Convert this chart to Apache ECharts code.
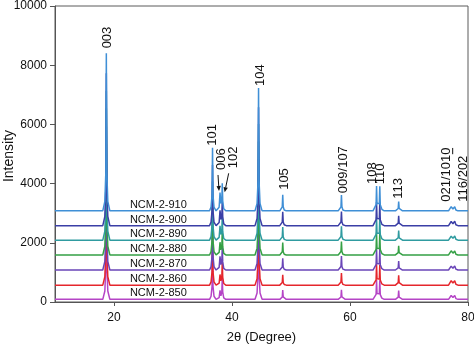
<!DOCTYPE html>
<html>
<head>
<meta charset="utf-8">
<script src="https://cdn.jsdelivr.net/npm/echarts@6/dist/echarts.min.js"></script>
<style>
html, body { margin: 0; padding: 0; background: #fff; }
#chart { width: 474px; height: 345px; }
</style>
</head>
<body>
<div id="chart"></div>
<script>
// 2-theta positions (degrees) at which each diffraction trace is sampled
const angles = [
  10.0,
  18.1, 18.45, 18.62, 18.7, 18.78, 18.95, 19.3,
  36.2, 36.45, 36.62, 36.7, 36.78, 36.95, 37.3,
  37.6, 37.82, 37.97, 38.12, 38.27, 38.35, 38.43, 38.6, 38.95,
  43.9, 44.25, 44.42, 44.5, 44.58, 44.75, 45.1,
  48.1, 48.35, 48.52, 48.6, 48.68, 48.85, 49.2,
  58.0, 58.3, 58.47, 58.55, 58.63, 58.8, 59.2,
  63.9, 64.2, 64.42, 64.5, 64.58, 64.78, 64.97, 65.05, 65.13, 65.4, 65.8,
  67.7, 68.0, 68.17, 68.25, 68.33, 68.5, 68.9,
  76.7, 76.95, 77.15, 77.45, 77.75, 77.95, 78.3,
  80.0
];

// Stacked intensities (counts, offset per sample)
const i910 = [
  3080,
  3080, 3400, 4410, 8400, 4410, 3400, 3080,
  3080, 3210, 3610, 5210, 3610, 3210, 3080,
  3080, 3200, 3700, 3330, 3410, 4010, 3410, 3150, 3080,
  3080, 3330, 4120, 7230, 4120, 3330, 3080,
  3080, 3110, 3215, 3620, 3215, 3110, 3080,
  3080, 3110, 3215, 3610, 3215, 3110, 3080,
  3080, 3130, 3290, 3920, 3330, 3300, 3330, 3910, 3290, 3130, 3080,
  3080, 3100, 3160, 3390, 3160, 3100, 3080,
  3080, 3110, 3220, 3145, 3220, 3110, 3080,
  3080
];
const i900 = [
  2580,
  2580, 2890, 3870, 7730, 3870, 2890, 2580,
  2580, 2700, 3090, 4630, 3090, 2700, 2580,
  2580, 2685, 3100, 2790, 2880, 3440, 2880, 2640, 2580,
  2580, 2820, 3580, 6580, 3580, 2820, 2580,
  2580, 2610, 2700, 3050, 2700, 2610, 2580,
  2580, 2610, 2700, 3060, 2700, 2610, 2580,
  2580, 2630, 2780, 3380, 2820, 2780, 2815, 3360, 2775, 2625, 2580,
  2580, 2600, 2665, 2910, 2665, 2600, 2580,
  2580, 2610, 2720, 2645, 2730, 2610, 2580,
  2580
];
const i890 = [
  2090,
  2090, 2395, 3355, 7140, 3355, 2395, 2090,
  2090, 2210, 2585, 4070, 2585, 2210, 2090,
  2090, 2185, 2570, 2280, 2375, 2910, 2375, 2145, 2090,
  2090, 2325, 3070, 6010, 3070, 2325, 2090,
  2090, 2115, 2200, 2530, 2200, 2115, 2090,
  2090, 2120, 2210, 2560, 2210, 2120, 2090,
  2090, 2135, 2285, 2860, 2320, 2280, 2320, 2850, 2280, 2135, 2090,
  2090, 2110, 2170, 2410, 2170, 2110, 2090,
  2090, 2115, 2220, 2150, 2230, 2120, 2090,
  2090
];
const i880 = [
  1590,
  1590, 1885, 2830, 6540, 2830, 1885, 1590,
  1590, 1705, 2075, 3520, 2075, 1705, 1590,
  1590, 1675, 2020, 1760, 1870, 2390, 1870, 1645, 1590,
  1590, 1820, 2550, 5420, 2550, 1820, 1590,
  1590, 1615, 1695, 2010, 1695, 1615, 1590,
  1590, 1615, 1705, 2040, 1705, 1615, 1590,
  1590, 1635, 1780, 2340, 1815, 1780, 1810, 2330, 1775, 1635, 1590,
  1590, 1610, 1670, 1900, 1670, 1610, 1590,
  1590, 1620, 1730, 1650, 1720, 1615, 1590,
  1590
];
const i870 = [
  1080,
  1080, 1370, 2295, 5930, 2295, 1370, 1080,
  1080, 1195, 1550, 2960, 1550, 1195, 1080,
  1080, 1170, 1540, 1265, 1355, 1860, 1355, 1135, 1080,
  1080, 1305, 2015, 4820, 2015, 1305, 1080,
  1080, 1105, 1180, 1480, 1180, 1105, 1080,
  1080, 1110, 1200, 1550, 1200, 1110, 1080,
  1080, 1125, 1265, 1810, 1300, 1260, 1295, 1790, 1260, 1125, 1080,
  1080, 1100, 1155, 1380, 1155, 1100, 1080,
  1080, 1105, 1210, 1140, 1220, 1110, 1080,
  1080
];
const i860 = [
  570,
  570, 855, 1760, 5320, 1760, 855, 570,
  570, 680, 1025, 2390, 1025, 680, 570,
  570, 640, 930, 715, 835, 1330, 835, 625, 570,
  570, 790, 1485, 4220, 1485, 790, 570,
  570, 590, 660, 920, 660, 590, 570,
  570, 595, 675, 980, 675, 595, 570,
  570, 615, 750, 1280, 785, 750, 775, 1260, 745, 610, 570,
  570, 590, 655, 900, 655, 590, 570,
  570, 600, 720, 640, 720, 600, 570,
  570
];
const i850 = [
  90,
  90, 370, 1255, 4740, 1255, 370, 90,
  90, 195, 530, 1850, 530, 195, 90,
  90, 150, 390, 210, 335, 790, 335, 140, 90,
  90, 305, 980, 3640, 980, 305, 90,
  90, 110, 170, 400, 170, 110, 90,
  90, 110, 170, 410, 170, 110, 90,
  90, 130, 255, 740, 285, 260, 280, 730, 250, 130, 90,
  90, 110, 165, 390, 165, 110, 90,
  90, 115, 220, 150, 220, 115, 90,
  90
];

const sampleNames = ['NCM-2-910', 'NCM-2-900', 'NCM-2-890', 'NCM-2-880', 'NCM-2-870', 'NCM-2-860', 'NCM-2-850'];
const sampleData = [i910, i900, i890, i880, i870, i860, i850];
const sampleColors = ['#3f8fd6', '#3b3fa6', '#2f9ba0', '#35a045', '#6a45b8', '#e5262c', '#b544c6'];

// Miller indices of the indexed reflections and their 2-theta positions
const reflections = ['003', '101', '006', '102', '104', '105', '009/107', '108', '110', '113', '021/1010', '116/202'];
const reflectionAngles = [18.7, 36.7, 37.97, 38.35, 44.5, 48.6, 58.55, 64.5, 65.05, 68.25, 77.15, 77.75];

const xTickValues = [20, 40, 60, 80];

const FONT = '"Liberation Sans", Arial, Helvetica, sans-serif';

const chart = echarts.init(document.getElementById('chart'), null, { renderer: 'canvas' });

// bottom trace first so that each upper trace is painted over the ones below it
const lineSeries = sampleNames.map((name, k) => ({
  type: 'line',
  name: name,
  data: angles.map((a, j) => [a, sampleData[k][j]]),
  showSymbol: false,
  symbol: 'none',
  silent: true,
  lineStyle: { color: sampleColors[k], width: 1.5 },
  itemStyle: { color: sampleColors[k] }
})).reverse();

chart.setOption({
  animation: false,
  backgroundColor: '#ffffff',
  grid: {
    left: 55, right: 6, top: 6, bottom: 43,
    containLabel: false,
    outerBoundsMode: 'none',
    show: true, borderColor: '#5a5a5a', borderWidth: 1, backgroundColor: 'transparent'
  },
  xAxis: {
    type: 'value',
    min: 10, max: 80, interval: 10,
    name: '2\u03b8 (Degree)',
    nameLocation: 'middle',
    nameGap: 29,
    nameTextStyle: { fontFamily: FONT, fontSize: 13, color: '#111' },
    axisLine: { show: true, lineStyle: { color: '#555', width: 1 } },
    axisTick: { show: true, length: 4, inside: false, customValues: xTickValues, lineStyle: { color: '#555' } },
    axisLabel: { margin: 10, fontFamily: FONT, fontSize: 12, color: '#111', customValues: xTickValues },
    splitLine: { show: false }
  },
  yAxis: {
    type: 'value',
    min: 0, max: 10000, interval: 2000,
    axisLine: { show: true, lineStyle: { color: '#555', width: 1 } },
    axisTick: { show: true, length: 5, inside: false, lineStyle: { color: '#555' } },
    axisLabel: { margin: 8, fontFamily: FONT, fontSize: 12, color: '#111', formatter: (v) => String(v) },
    splitLine: { show: false }
  },
  series: lineSeries
});

// ---- annotations: axis title, reflection labels, arrows and sample names ----
const toPx = (a, v) => chart.convertToPixel({ gridIndex: 0 }, [a, v]);
const topTrace = sampleData[0];
const apexOf = (angle) => topTrace[angles.indexOf(angle)];
const LABEL_FONT = '13px ' + FONT;

const measureCtx = document.createElement('canvas').getContext('2d');
measureCtx.font = LABEL_FONT;

const graphics = [];

// vertical axis title, centred on the plot height
const mid = toPx(10, 5000);
graphics.push({
  type: 'text', silent: true,
  x: 9, y: mid[1] + 2,
  rotation: Math.PI / 2,
  style: {
    text: 'Intensity', font: '14px ' + FONT, fill: '#111',
    align: 'center', verticalAlign: 'middle',
    textAlign: 'center', textVerticalAlign: 'middle'
  }
});

// pixel nudges for each reflection label: [dx, gap above apex]
const labelNudge = [
  [1, 5], [0, 2], [1.5, 22.5], [11.5, 15], [1.5, 2], [2, 5],
  [1.5, 2], [-4, 2], [1, 2], [0, 3], [-5, 5], [8.5, 5]
];

reflections.forEach((txt, k) => {
  const p = toPx(reflectionAngles[k], apexOf(reflectionAngles[k]));
  const x = p[0] + labelNudge[k][0];
  const y = p[1] - labelNudge[k][1];
  graphics.push({
    type: 'text',
    x: x, y: y,
    rotation: Math.PI / 2,
    silent: true,
    style: {
      text: txt,
      font: LABEL_FONT,
      fill: '#111',
      align: 'left',
      verticalAlign: 'middle',
      textAlign: 'left',
      textVerticalAlign: 'middle'
    }
  });
  // the trailing index of 021/1010 is underlined
  if (txt === '021/1010') {
    const w0 = measureCtx.measureText('021/101').width;
    const w1 = measureCtx.measureText('021/1010').width;
    graphics.push({
      type: 'line', silent: true,
      shape: { x1: x + 6.5, y1: y - w0 - 0.5, x2: x + 6.5, y2: y - w1 + 0.5 },
      style: { stroke: '#111', lineWidth: 1 }
    });
  }
});

// arrows pointing at the 006 / 102 doublet: [tail dx, tail dy, tip dx, tip dy] from the apex
function arrow(angle, d) {
  const p = toPx(angle, apexOf(angle));
  const x1 = p[0] + d[0], y1 = p[1] + d[1], x2 = p[0] + d[2], y2 = p[1] + d[3];
  const ang = Math.atan2(y2 - y1, x2 - x1);
  const L = 5, W = 2.2;
  const bx = x2 - L * Math.cos(ang), by = y2 - L * Math.sin(ang);
  graphics.push({
    type: 'line', silent: true,
    shape: { x1: x1, y1: y1, x2: bx, y2: by },
    style: { stroke: '#111', lineWidth: 1 }
  });
  graphics.push({
    type: 'polygon', silent: true,
    shape: { points: [
      [x2, y2],
      [bx + W * Math.sin(ang), by - W * Math.cos(ang)],
      [bx - W * Math.sin(ang), by + W * Math.cos(ang)]
    ] },
    style: { fill: '#111' }
  });
}
arrow(37.97, [-2, -17.5, -1, -1.5]);
arrow(38.35, [6.4, -10, 2.4, 9]);

// sample names sit just above their own baselines
const nameAngle = 22.7;
sampleNames.forEach((name, k) => {
  const p = toPx(nameAngle, sampleData[k][0]);
  graphics.push({
    type: 'text', silent: true,
    x: p[0], y: p[1] - 6,
    style: {
      text: name,
      font: '11px ' + FONT,
      fill: '#111',
      align: 'left',
      verticalAlign: 'middle',
      textAlign: 'left',
      textVerticalAlign: 'middle'
    }
  });
});

chart.setOption({ graphic: graphics });
</script>
</body>
</html>
